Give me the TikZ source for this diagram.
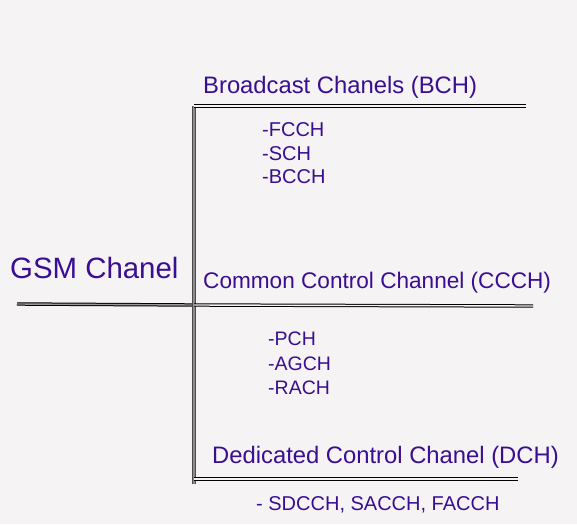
\documentclass[tikz,border=0pt]{standalone}
\usepackage{fontspec}
\setmainfont{Liberation Sans}
\usepackage{xcolor}
\usetikzlibrary{positioning}
\definecolor{gsmpurple}{RGB}{58,14,146}
\definecolor{paper}{RGB}{245,243,243}

\begin{document}
\begin{tikzpicture}[x=1pt,y=-1pt,
		rule/.style={draw=black,double=paper,line width=1pt,double distance=1.4pt},
		greyrule/.style={draw=black!70,double=black!45,line width=1pt,double distance=1.4pt},
		head/.style={anchor=base west,inner sep=0pt,text=gsmpurple,font=\fontsize{23.8}{25}\selectfont},
		item/.style={anchor=base west,inner sep=0pt,text=gsmpurple,font=\fontsize{19.5}{21}\selectfont}]
		\fill[paper] (0,0) rectangle (577,524);
		\useasboundingbox (0,0) rectangle (577,524);
		% corners of the tree
		\coordinate (top) at (194,106);
		\coordinate (mid) at (194,305);
		\coordinate (bot) at (194,479);
		\coordinate (foot) at (194,484);
		\coordinate (topend) at (526,106);
		\coordinate (midend) at (533,306);
		\coordinate (botend) at (518,479);
		\coordinate (midstart) at (17,304);
		% labels
		\node[head,font=\fontsize{29.4}{31}\selectfont] (gsm) at (10,278) {GSM Chanel};
		\node[head] (bch) at (203,94) {Broadcast Chanels (BCH)};
		\node[item,font=\fontsize{20}{22}\selectfont] (fcch) at (262,136) {-FCCH};
		\node[item,font=\fontsize{20}{22}\selectfont] (sch) at (262,160) {-SCH};
		\node[item,font=\fontsize{20}{22}\selectfont] (bcch) at (262,183) {-BCCH};
		\node[head,font=\fontsize{22.6}{24}\selectfont] (ccch) at (203,288) {Common Control Channel (CCCH)};
		\node[item] (pch) at (268,345) {-PCH};
		\node[item] (agch) at (268,370) {-AGCH};
		\node[item] (rach) at (268,394) {-RACH};
		\node[head] (dch) at (212,463) {Dedicated Control Chanel (DCH)};
		\node[item,font=\fontsize{20}{22}\selectfont] (sdcch) at (256,510) {- SDCCH, SACCH, FACCH};
		% lines
		\draw[rule,double=black!40] (midstart)--(mid);
		\draw[greyrule] (top)--(foot);
		\draw[rule] (top)--(topend);
		\draw[rule] (mid)--(midend);
		\draw[rule] (bot)--(botend);
\end{tikzpicture}
\end{document}
